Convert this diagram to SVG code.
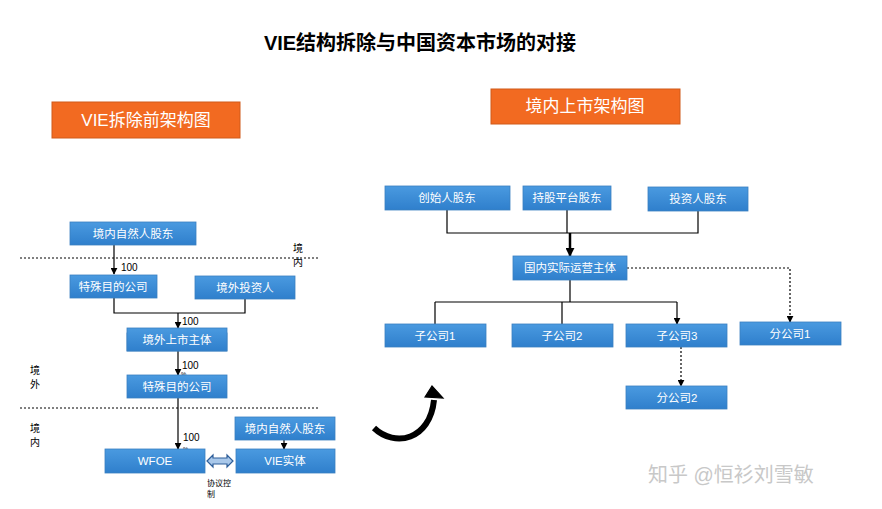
<svg xmlns="http://www.w3.org/2000/svg" width="882" height="509" viewBox="0 0 882 509">
<defs>
<linearGradient id="bg" x1="0" y1="0" x2="0" y2="1"><stop offset="0" stop-color="#4a9ae0"/><stop offset="1" stop-color="#2f7fcc"/></linearGradient>
<marker id="ah" viewBox="0 0 10 10" refX="9" refY="5" markerWidth="7" markerHeight="7" markerUnits="userSpaceOnUse" orient="auto"><path d="M0,0L10,5L0,10z" fill="#000"/></marker>
<marker id="ahb" viewBox="0 0 10 10" refX="9" refY="5" markerWidth="9" markerHeight="9" markerUnits="userSpaceOnUse" orient="auto"><path d="M0,0L10,5L0,10z" fill="#000"/></marker>
</defs>
<style>
text{font-family:"Liberation Sans","Noto Sans CJK SC",sans-serif;}
.n rect{fill:url(#bg);stroke:#3a7fc0;stroke-width:0.8}
.n text{fill:#fff;font-size:11.5px;text-anchor:middle;dominant-baseline:central}
.o rect{fill:#f26a21;stroke:#d05a1a}
.o text{fill:#fff;font-size:17px;text-anchor:middle;dominant-baseline:central}
.c path,.c line{fill:none;stroke:#000;stroke-width:1.2}
.d{stroke-dasharray:2,2}
.dl{stroke:#000;stroke-dasharray:2,2;stroke-width:1}
.l{font-size:10px;fill:#000}
.p{font-size:6px;fill:#000}
</style>
<rect width="882" height="509" fill="#fff"/>
<text x="420" y="50" font-size="20" font-weight="bold" text-anchor="middle">VIE结构拆除与中国资本市场的对接</text>
<g id="t1" class="o"><rect x="52" y="102" width="188" height="36"/><text x="146" y="120">VIE拆除前架构图</text></g>
<g id="t2" class="o"><rect x="491" y="89" width="189" height="35"/><text x="585" y="106">境内上市架构图</text></g>

<line x1="20" y1="258" x2="320" y2="258" class="dl"/>
<line x1="20" y1="408" x2="320" y2="408" class="dl"/>
<text x="293" y="252" class="l">境</text><text x="293" y="266" class="l">内</text>
<text x="30" y="374" class="l">境</text><text x="30" y="388" class="l">外</text>
<text x="30" y="432" class="l">境</text><text x="30" y="446" class="l">内</text>

<g id="connectors" class="c">
<path d="M114,245V274" marker-end="url(#ah)"/>
<path d="M114,298V313H245V299"/>
<path d="M178,313V328" marker-end="url(#ah)"/>
<path d="M178,351V375" marker-end="url(#ah)"/>
<path d="M178,398V449" marker-end="url(#ah)"/>
<path d="M284,440V449" marker-end="url(#ah)"/>
<path d="M447,210V233H698V211M567,210V233"/>
<path d="M570,233V256" marker-end="url(#ahb)" style="stroke-width:2.5"/>
<path d="M570,280V302M435,302H677"/>
<path d="M435,302V324M562,302V324M677,302V324" marker-end="url(#ah)"/>
<path d="M627,268H790V322" class="d" marker-end="url(#ah)"/>
<path d="M681,347V386" class="d" marker-end="url(#ah)"/>
<path d="M207,461L213,455V458H227V455L233,461L227,467V464H213V467Z" style="fill:#a9c8ea;stroke:#2f5f9a"/>
<path d="M374,428C395,448 430,440 434,400" style="stroke-width:6"/>
<path d="M425,397L432,386L443,398Z" style="fill:#000;stroke:#000"/>
</g>
<text x="121" y="271" class="l">100</text><text x="117" y="279" class="p">%</text>
<text x="182" y="325" class="l">100</text><text x="181" y="332" class="p">%</text>
<text x="182" y="369" class="l">100</text><text x="181" y="376" class="p">%</text>
<text x="183" y="441" class="l">100</text><text x="183" y="451" class="p">%</text>
<text x="207" y="486" font-size="8">协议控</text><text x="207" y="497" font-size="8">制</text>

<g id="a1" class="n"><rect x="70" y="222" width="126" height="23"/><text x="133" y="233.5">境内自然人股东</text></g>
<g id="a2" class="n"><rect x="70" y="275" width="87" height="23"/><text x="113" y="286.5">特殊目的公司</text></g>
<g id="a3" class="n"><rect x="195" y="276" width="100" height="23"/><text x="245" y="287.5">境外投资人</text></g>
<g id="a4" class="n"><rect x="127" y="333" width="100" height="18"/><rect x="127" y="328" width="100" height="23"/><text x="177" y="339.5">境外上市主体</text></g>
<g id="a5" class="n"><rect x="127" y="375" width="100" height="23"/><text x="177" y="386.5">特殊目的公司</text></g>
<g id="a6" class="n"><rect x="105" y="449" width="100" height="24"/><text x="155" y="461">WFOE</text></g>
<g id="a7" class="n"><rect x="235" y="417" width="100" height="23"/><text x="285" y="428.5">境内自然人股东</text></g>
<g id="a8" class="n"><rect x="236" y="449" width="99" height="24"/><text x="285" y="461">VIE实体</text></g>

<g id="b1" class="n"><rect x="385" y="186" width="125" height="24"/><text x="447" y="198">创始人股东</text></g>
<g id="b2" class="n"><rect x="523" y="186" width="88" height="24"/><text x="567" y="198">持股平台股东</text></g>
<g id="b3" class="n"><rect x="648" y="187" width="100" height="24"/><text x="698" y="199">投资人股东</text></g>
<g id="b4" class="n"><rect x="513" y="256" width="114" height="24"/><text x="570" y="268">国内实际运营主体</text></g>
<g id="b5" class="n"><rect x="385" y="324" width="101" height="23"/><text x="435" y="335.5">子公司1</text></g>
<g id="b6" class="n"><rect x="512" y="324" width="101" height="23"/><text x="562" y="335.5">子公司2</text></g>
<g id="b7" class="n"><rect x="626" y="324" width="101" height="23"/><text x="677" y="335.5">子公司3</text></g>
<g id="b8" class="n"><rect x="740" y="322" width="101" height="23"/><text x="790" y="333.5">分公司1</text></g>
<g id="b9" class="n"><rect x="626" y="386" width="101" height="23"/><text x="677" y="397.5">分公司2</text></g>
<text x="648" y="482" font-size="20" fill="#c8c8c8">知乎 @恒衫刘雪敏</text>
</svg>
